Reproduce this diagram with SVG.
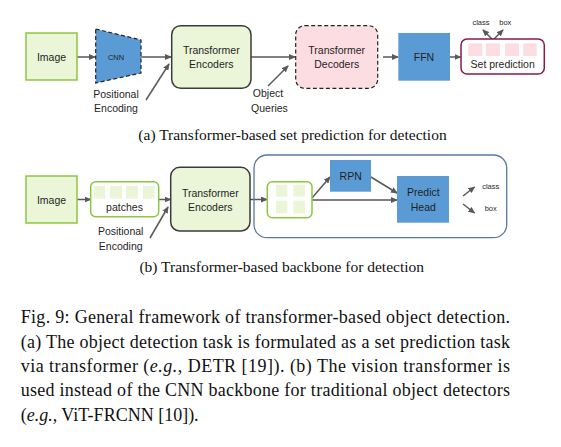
<svg xmlns="http://www.w3.org/2000/svg" width="561" height="447" viewBox="0 0 561 447">
<style>
.lbl{font-family:"Liberation Sans","Open Sans",Arial,sans-serif;font-size:10.5px;fill:#1f1f1f;text-anchor:middle}
.sm{font-size:7.5px}
.cap{font-family:"Liberation Serif","Times New Roman",serif;font-size:15.5px;fill:#111;text-anchor:middle}
.par{font-family:"Liberation Serif","Times New Roman",serif;font-size:18px;fill:#111}
.green{fill:#ebf5d8;stroke:#8dc63f;stroke-width:1.5}
.enc{fill:#ebf5d8;stroke:#3b3b3b;stroke-width:1.5}
.blue{fill:#5b9bd5}
.pinkdash{fill:#fcdde2;stroke:#222;stroke-width:1.2;stroke-dasharray:4,2.5}
.sq{fill:#fcdde2}
.gsq{fill:#ebf5d8}
.wgreen{fill:#fff;stroke:#8dc63f;stroke-width:1.5}
.ar{stroke:#595959;stroke-width:1.5;fill:none;marker-end:url(#ah)}
</style>
<defs>
<marker id="ah" markerWidth="7" markerHeight="6" refX="6" refY="3" orient="auto" markerUnits="userSpaceOnUse">
<path d="M0,0 L7,3 L0,6 z" fill="#595959"/>
</marker>
</defs>
<rect width="561" height="447" fill="#fff"/>

<g id="connectors">
<line class="ar" x1="77" y1="57" x2="95" y2="57"/>
<line class="ar" x1="141" y1="57" x2="171" y2="57"/>
<line class="ar" x1="146" y1="100" x2="169" y2="64"/>
<line class="ar" x1="251" y1="57" x2="295" y2="57"/>
<line class="ar" x1="268" y1="86" x2="288" y2="66"/>
<line class="ar" x1="383" y1="57" x2="398" y2="57"/>
<line class="ar" x1="450" y1="57" x2="460.5" y2="57"/>
<line class="ar" x1="493" y1="40" x2="483" y2="30"/>
<line class="ar" x1="493" y1="40" x2="503" y2="30"/>
<line class="ar" x1="77" y1="199.5" x2="90.5" y2="199.5"/>
<line class="ar" x1="158.7" y1="199.5" x2="170.5" y2="199.5"/>
<line class="ar" x1="150" y1="238" x2="168" y2="207"/>
<line class="ar" x1="250" y1="199.5" x2="267" y2="199.5"/>
<line class="ar" x1="312" y1="198" x2="330" y2="177"/>
<line class="ar" x1="312" y1="200" x2="397" y2="200"/>
<line class="ar" x1="371" y1="177" x2="397" y2="193"/>
<line class="ar" x1="463" y1="196" x2="474.5" y2="187"/>
<line class="ar" x1="463" y1="204" x2="474.5" y2="213"/>
</g>

<g id="image-a">
<rect class="green" x="26" y="33" width="51" height="47"/>
<text class="lbl" x="51.5" y="61">Image</text>
</g>
<g id="cnn">
<path d="M95.7,29 L141,40 L141,73 L95.7,83 Z" fill="#5b9bd5" stroke="#222" stroke-width="1.2" stroke-dasharray="4,2.5"/>
<text class="lbl sm" x="116" y="60">CNN</text>
</g>
<g id="posenc-a">
<text class="lbl" x="116" y="97.7">Positional</text>
<text class="lbl" x="116" y="111.7">Encoding</text>
</g>
<g id="encoders-a">
<rect class="enc" x="171.7" y="25.7" width="79.3" height="62.6" rx="9"/>
<text class="lbl" x="211.3" y="54.4">Transformer</text>
<text class="lbl" x="211.3" y="67.7">Encoders</text>
</g>
<g id="queries">
<text class="lbl" x="268" y="97">Object</text>
<text class="lbl" x="269.5" y="112">Queries</text>
</g>
<g id="decoders">
<rect class="pinkdash" x="295.7" y="25.7" width="82" height="62.6" rx="9"/>
<text class="lbl" x="336.7" y="54.4">Transformer</text>
<text class="lbl" x="336.7" y="67.7">Decoders</text>
</g>
<g id="ffn">
<rect class="blue" x="398.3" y="33" width="51.7" height="47.7"/>
<text class="lbl" x="424" y="60.7">FFN</text>
</g>
<g id="setpred">
<rect x="461" y="39" width="83.3" height="35" rx="6" fill="#fff" stroke="#8b1a4b" stroke-width="1.5"/>
<rect class="sq" x="468.3" y="43.3" width="14" height="12.7"/>
<rect class="sq" x="486" y="43.3" width="14" height="12.7"/>
<rect class="sq" x="505" y="43.3" width="14" height="12.7"/>
<rect class="sq" x="523.3" y="43.3" width="13.4" height="12.7"/>
<text class="lbl" x="502.7" y="68">Set prediction</text>
<text class="lbl sm" x="481" y="24.5">class</text>
<text class="lbl sm" x="505.3" y="24.5">box</text>
</g>
<text class="cap" x="292.5" y="140">(a) Transformer-based set prediction for detection</text>

<g id="image-b">
<rect class="green" x="26" y="176" width="51" height="47"/>
<text class="lbl" x="51.5" y="203.5">Image</text>
</g>
<g id="patches">
<rect class="wgreen" x="90.7" y="181.7" width="68" height="35" rx="5"/>
<rect class="gsq" x="93.3" y="186" width="12" height="12.7"/>
<rect class="gsq" x="110" y="186" width="12" height="12.7"/>
<rect class="gsq" x="126" y="186" width="12" height="12.7"/>
<rect class="gsq" x="142.7" y="186" width="12" height="12.7"/>
<text class="lbl" x="124.5" y="211">patches</text>
</g>
<g id="posenc-b">
<text class="lbl" x="120.7" y="234.7">Positional</text>
<text class="lbl" x="120.7" y="250.4">Encoding</text>
</g>
<g id="encoders-b">
<rect class="enc" x="170.7" y="167.3" width="79.3" height="63.7" rx="9"/>
<text class="lbl" x="210.3" y="197">Transformer</text>
<text class="lbl" x="210.3" y="211">Encoders</text>
</g>
<g id="backbone">
<rect x="254" y="155" width="252.7" height="82.7" rx="13" fill="none" stroke="#5a78a3" stroke-width="1.3"/>
</g>
<g id="features">
<rect class="wgreen" x="267.3" y="181.7" width="44.7" height="36" rx="5"/>
<rect class="gsq" x="276" y="185" width="11.3" height="11.7"/>
<rect class="gsq" x="293.3" y="185" width="11.7" height="11.7"/>
<rect class="gsq" x="276" y="200.7" width="11.3" height="12.6"/>
<rect class="gsq" x="293.3" y="200.7" width="11.7" height="12.6"/>
</g>
<g id="rpn">
<rect class="blue" x="330" y="160" width="41" height="31.7"/>
<text class="lbl" x="350.7" y="179.7">RPN</text>
</g>
<g id="predict">
<rect class="blue" x="397" y="176" width="52" height="46.7"/>
<text class="lbl" x="423.3" y="196">Predict</text>
<text class="lbl" x="423.3" y="211">Head</text>
</g>
<g id="outputs-b">
<text class="lbl sm" x="490.7" y="189.4">class</text>
<text class="lbl sm" x="490.7" y="211.4">box</text>
</g>
<text class="cap" x="281.7" y="272">(b) Transformer-based backbone for detection</text>

<g id="caption">
<text class="par" x="20.7" y="323.3" textLength="489.3" lengthAdjust="spacing">Fig. 9: General framework of transformer-based object detection.</text>
<text class="par" x="20.7" y="347.5" textLength="489.3" lengthAdjust="spacing">(a) The object detection task is formulated as a set prediction task</text>
<text class="par" x="20.7" y="371.8" textLength="489.3" lengthAdjust="spacing">via transformer (<tspan font-style="italic">e.g.</tspan>, DETR [19]). (b) The vision transformer is</text>
<text class="par" x="20.7" y="396.2" textLength="489.3" lengthAdjust="spacing">used instead of the CNN backbone for traditional object detectors</text>
<text class="par" x="20.7" y="420.5">(<tspan font-style="italic">e.g.</tspan>, ViT-FRCNN [10]).</text>
</g>
</svg>
